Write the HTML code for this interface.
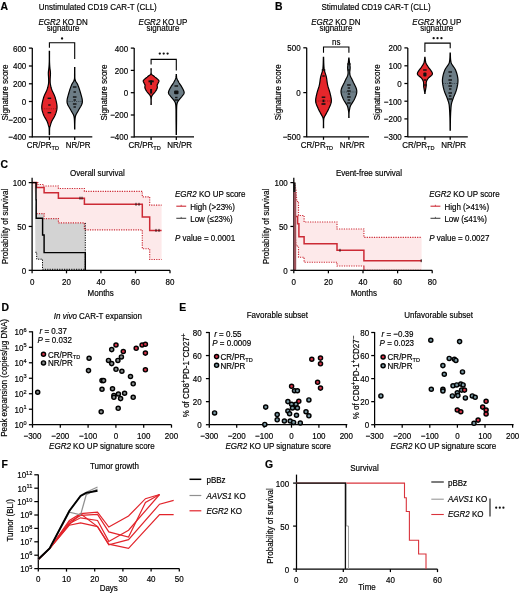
<!DOCTYPE html>
<html><head><meta charset="utf-8"><style>
html,body{margin:0;padding:0;background:#fff;width:520px;height:593px;overflow:hidden}
svg{display:block;filter:blur(0.3px)}
text{font-family:"Liberation Sans", sans-serif}
</style></head><body>
<svg width="520" height="593" viewBox="0 0 520 593" font-family='"Liberation Sans", sans-serif'>
<rect width="520" height="593" fill="#fff"/>
<text x="0" y="0" font-size="10.400" text-anchor="start" fill="#000" stroke="#000" stroke-width="0.18" font-weight="bold" transform="translate(0.50 10.10) scale(1.0000 1)" >A</text>
<text x="0" y="0" font-size="10.400" text-anchor="start" fill="#000" stroke="#000" stroke-width="0.18" font-weight="bold" transform="translate(275.00 10.10) scale(1.0000 1)" >B</text>
<text x="0" y="0" font-size="10.400" text-anchor="start" fill="#000" stroke="#000" stroke-width="0.18" font-weight="bold" transform="translate(0.50 168.20) scale(1.0000 1)" >C</text>
<text x="0" y="0" font-size="10.400" text-anchor="start" fill="#000" stroke="#000" stroke-width="0.18" font-weight="bold" transform="translate(1.50 311.00) scale(1.0000 1)" >D</text>
<text x="0" y="0" font-size="10.400" text-anchor="start" fill="#000" stroke="#000" stroke-width="0.18" font-weight="bold" transform="translate(179.30 311.10) scale(1.0000 1)" >E</text>
<text x="0" y="0" font-size="10.400" text-anchor="start" fill="#000" stroke="#000" stroke-width="0.18" font-weight="bold" transform="translate(1.50 468.00) scale(1.0000 1)" >F</text>
<text x="0" y="0" font-size="10.400" text-anchor="start" fill="#000" stroke="#000" stroke-width="0.18" font-weight="bold" transform="translate(265.00 468.00) scale(1.0000 1)" >G</text>
<text x="0" y="0" font-size="8.960" text-anchor="start" fill="#000" stroke="#000" stroke-width="0.18" transform="translate(38.75 9.75) scale(0.8929 1)" >Unstimulated CD19 CAR-T (CLL)</text>
<text x="0" y="0" font-size="8.960" text-anchor="start" fill="#000" stroke="#000" stroke-width="0.18" transform="translate(321.50 9.75) scale(0.8929 1)" >Stimulated CD19 CAR-T (CLL)</text>
<line x1="32.30" y1="48.10" x2="32.30" y2="137.40" stroke="#000" stroke-width="1.25" />
<line x1="28.90" y1="48.10" x2="32.30" y2="48.10" stroke="#000" stroke-width="1.25" />
<text x="0" y="0" font-size="8.960" text-anchor="end" fill="#000" stroke="#000" stroke-width="0.18" transform="translate(26.30 51.50) scale(0.8929 1)" >600</text>
<line x1="28.90" y1="66.00" x2="32.30" y2="66.00" stroke="#000" stroke-width="1.25" />
<text x="0" y="0" font-size="8.960" text-anchor="end" fill="#000" stroke="#000" stroke-width="0.18" transform="translate(26.30 69.40) scale(0.8929 1)" >400</text>
<line x1="28.90" y1="83.80" x2="32.30" y2="83.80" stroke="#000" stroke-width="1.25" />
<text x="0" y="0" font-size="8.960" text-anchor="end" fill="#000" stroke="#000" stroke-width="0.18" transform="translate(26.30 87.20) scale(0.8929 1)" >200</text>
<line x1="28.90" y1="101.50" x2="32.30" y2="101.50" stroke="#000" stroke-width="1.25" />
<text x="0" y="0" font-size="8.960" text-anchor="end" fill="#000" stroke="#000" stroke-width="0.18" transform="translate(26.30 104.90) scale(0.8929 1)" >0</text>
<line x1="28.90" y1="119.20" x2="32.30" y2="119.20" stroke="#000" stroke-width="1.25" />
<text x="0" y="0" font-size="8.960" text-anchor="end" fill="#000" stroke="#000" stroke-width="0.18" transform="translate(26.30 122.60) scale(0.8929 1)" >−200</text>
<line x1="28.90" y1="136.90" x2="32.30" y2="136.90" stroke="#000" stroke-width="1.25" />
<text x="0" y="0" font-size="8.960" text-anchor="end" fill="#000" stroke="#000" stroke-width="0.18" transform="translate(26.30 140.30) scale(0.8929 1)" >−400</text>
<line x1="32.30" y1="136.90" x2="92.30" y2="136.90" stroke="#000" stroke-width="1.25" />
<line x1="49.40" y1="136.90" x2="49.40" y2="139.90" stroke="#000" stroke-width="1.25" />
<line x1="74.70" y1="136.90" x2="74.70" y2="139.90" stroke="#000" stroke-width="1.25" />
<text x="0" y="0" font-size="8.960" text-anchor="start" fill="#000" stroke="#000" stroke-width="0.18" transform="translate(26.70 148.20) scale(0.8929 1)" >CR/PR<tspan font-size="6.27" dy="1.8">TD</tspan></text>
<text x="0" y="0" font-size="8.960" text-anchor="middle" fill="#000" stroke="#000" stroke-width="0.18" transform="translate(78.10 148.20) scale(0.8929 1)" >NR/PR</text>
<text x="0" y="0" font-size="8.960" text-anchor="middle" fill="#000" stroke="#000" stroke-width="0.18" transform="translate(7.60 92.50) rotate(-90) scale(0.8929 1)" >Signature score</text>
<text x="0" y="0" font-size="8.960" text-anchor="middle" fill="#000" stroke="#000" stroke-width="0.18" transform="translate(63.10 24.70) scale(0.8929 1)" ><tspan font-style="italic">EGR2</tspan> KO DN</text>
<text x="0" y="0" font-size="8.960" text-anchor="middle" fill="#000" stroke="#000" stroke-width="0.18" transform="translate(63.10 31.30) scale(0.8929 1)" >signature</text>
<polyline points="49.40,47.70 49.40,42.70 74.70,42.70 74.70,59.00" fill="none" stroke="#000" stroke-width="1.1" stroke-linejoin="miter" />
<circle cx="62.05" cy="38.50" r="1.15" fill="#111"/>
<polygon points="49.52,51.40 49.52,52.48 49.51,54.01 49.50,55.80 49.50,57.68 49.50,59.47 49.52,61.00 49.55,62.26 49.60,63.40 49.65,64.45 49.71,65.44 49.78,66.42 49.85,67.40 49.94,68.37 50.06,69.29 50.19,70.19 50.31,71.10 50.40,72.02 50.45,73.00 50.45,74.05 50.40,75.17 50.32,76.32 50.25,77.45 50.18,78.52 50.15,79.50 50.14,80.35 50.14,81.11 50.14,81.81 50.18,82.49 50.24,83.21 50.35,84.00 50.49,84.85 50.66,85.71 50.85,86.60 51.09,87.54 51.39,88.53 51.75,89.60 52.21,90.74 52.77,91.94 53.39,93.20 54.01,94.51 54.60,95.88 55.10,97.30 55.55,98.81 55.99,100.43 56.39,102.10 56.72,103.77 56.95,105.39 57.05,106.90 57.00,108.30 56.82,109.64 56.55,110.93 56.19,112.18 55.79,113.40 55.35,114.60 54.83,115.80 54.21,117.00 53.53,118.17 52.86,119.29 52.24,120.34 51.75,121.30 51.38,122.16 51.09,122.94 50.87,123.64 50.68,124.30 50.52,124.91 50.35,125.50 50.19,126.01 50.04,126.40 49.92,126.76 49.82,127.15 49.73,127.64 49.65,128.30 49.59,129.23 49.56,130.40 49.54,131.68 49.53,132.91 49.53,133.96 49.52,134.70 49.28,134.70 49.27,133.96 49.27,132.91 49.26,131.68 49.24,130.40 49.21,129.23 49.15,128.30 49.07,127.64 48.98,127.15 48.88,126.76 48.76,126.40 48.61,126.01 48.45,125.50 48.28,124.91 48.12,124.30 47.93,123.64 47.71,122.94 47.42,122.16 47.05,121.30 46.56,120.34 45.94,119.29 45.27,118.17 44.59,117.00 43.97,115.80 43.45,114.60 43.01,113.40 42.61,112.18 42.25,110.93 41.98,109.64 41.80,108.30 41.75,106.90 41.85,105.39 42.08,103.77 42.41,102.10 42.81,100.43 43.25,98.81 43.70,97.30 44.20,95.88 44.79,94.51 45.41,93.20 46.03,91.94 46.59,90.74 47.05,89.60 47.41,88.53 47.71,87.54 47.95,86.60 48.14,85.71 48.31,84.85 48.45,84.00 48.56,83.21 48.62,82.49 48.66,81.81 48.66,81.11 48.66,80.35 48.65,79.50 48.62,78.52 48.55,77.45 48.48,76.32 48.40,75.17 48.35,74.05 48.35,73.00 48.40,72.02 48.49,71.10 48.61,70.19 48.74,69.29 48.86,68.37 48.95,67.40 49.02,66.42 49.09,65.44 49.15,64.45 49.20,63.40 49.25,62.26 49.28,61.00 49.30,59.47 49.30,57.68 49.30,55.80 49.29,54.01 49.28,52.48 49.28,51.40" fill="#e5262b" stroke="#000" stroke-width="1.2" />
<polygon points="74.82,67.50 74.82,68.21 74.81,69.20 74.80,70.38 74.80,71.63 74.80,72.87 74.82,74.00 74.83,75.04 74.82,76.08 74.82,77.11 74.86,78.11 74.96,79.08 75.15,80.00 75.45,80.84 75.85,81.58 76.31,82.29 76.80,83.03 77.29,83.85 77.75,84.80 78.20,85.89 78.66,87.08 79.12,88.35 79.57,89.69 80.00,91.07 80.40,92.50 80.83,94.01 81.31,95.63 81.77,97.30 82.14,98.97 82.35,100.59 82.35,102.10 82.06,103.53 81.53,104.91 80.84,106.25 80.09,107.52 79.36,108.71 78.75,109.80 78.23,110.78 77.72,111.67 77.23,112.47 76.78,113.21 76.39,113.91 76.05,114.60 75.79,115.22 75.59,115.74 75.45,116.22 75.34,116.73 75.24,117.30 75.15,118.00 75.06,118.86 75.00,119.84 74.95,120.90 74.91,121.98 74.88,123.03 74.85,124.00 74.83,124.95 74.82,125.93 74.82,126.88 74.82,127.74 74.82,128.47 74.82,129.00 74.58,129.00 74.58,128.47 74.58,127.74 74.58,126.88 74.58,125.93 74.57,124.95 74.55,124.00 74.52,123.03 74.49,121.98 74.45,120.90 74.40,119.84 74.34,118.86 74.25,118.00 74.16,117.30 74.06,116.73 73.95,116.22 73.81,115.74 73.61,115.22 73.35,114.60 73.01,113.91 72.62,113.21 72.17,112.47 71.68,111.67 71.17,110.78 70.65,109.80 70.04,108.71 69.31,107.52 68.56,106.25 67.87,104.91 67.34,103.53 67.05,102.10 67.05,100.59 67.26,98.97 67.63,97.30 68.09,95.63 68.57,94.01 69.00,92.50 69.40,91.07 69.83,89.69 70.28,88.35 70.74,87.08 71.20,85.89 71.65,84.80 72.11,83.85 72.60,83.03 73.09,82.29 73.55,81.58 73.95,80.84 74.25,80.00 74.44,79.08 74.54,78.11 74.58,77.11 74.58,76.08 74.57,75.04 74.58,74.00 74.60,72.87 74.60,71.63 74.60,70.38 74.59,69.20 74.58,68.21 74.58,67.50" fill="#6d7d86" stroke="#000" stroke-width="1.2" />
<line x1="41.90" y1="108.80" x2="56.90" y2="108.80" stroke="#6a1010" stroke-width="0.6" stroke-dasharray="1.2,1"/>
<rect x="47.60" y="97.60" width="3.6" height="1.4" fill="#111"/>
<rect x="48.20" y="104.30" width="2.4" height="1.4" fill="#111"/>
<rect x="47.60" y="112.00" width="3.6" height="1.4" fill="#111"/>
<line x1="67.20" y1="101.50" x2="82.20" y2="101.50" stroke="#202a30" stroke-width="0.6" stroke-dasharray="1.2,1"/>
<rect x="72.90" y="86.30" width="3.6" height="1.4" fill="#111"/>
<rect x="73.50" y="91.30" width="2.4" height="1.4" fill="#111"/>
<rect x="72.90" y="96.30" width="3.6" height="1.4" fill="#111"/>
<rect x="73.50" y="99.30" width="2.4" height="1.4" fill="#111"/>
<rect x="72.90" y="103.30" width="3.6" height="1.4" fill="#111"/>
<rect x="73.50" y="106.30" width="2.4" height="1.4" fill="#111"/>
<line x1="134.20" y1="48.10" x2="134.20" y2="137.40" stroke="#000" stroke-width="1.25" />
<line x1="130.80" y1="48.10" x2="134.20" y2="48.10" stroke="#000" stroke-width="1.25" />
<text x="0" y="0" font-size="8.960" text-anchor="end" fill="#000" stroke="#000" stroke-width="0.18" transform="translate(128.20 51.50) scale(0.8929 1)" >400</text>
<line x1="130.80" y1="70.40" x2="134.20" y2="70.40" stroke="#000" stroke-width="1.25" />
<text x="0" y="0" font-size="8.960" text-anchor="end" fill="#000" stroke="#000" stroke-width="0.18" transform="translate(128.20 73.80) scale(0.8929 1)" >200</text>
<line x1="130.80" y1="92.70" x2="134.20" y2="92.70" stroke="#000" stroke-width="1.25" />
<text x="0" y="0" font-size="8.960" text-anchor="end" fill="#000" stroke="#000" stroke-width="0.18" transform="translate(128.20 96.10) scale(0.8929 1)" >0</text>
<line x1="130.80" y1="115.00" x2="134.20" y2="115.00" stroke="#000" stroke-width="1.25" />
<text x="0" y="0" font-size="8.960" text-anchor="end" fill="#000" stroke="#000" stroke-width="0.18" transform="translate(128.20 118.40) scale(0.8929 1)" >−200</text>
<line x1="130.80" y1="137.00" x2="134.20" y2="137.00" stroke="#000" stroke-width="1.25" />
<text x="0" y="0" font-size="8.960" text-anchor="end" fill="#000" stroke="#000" stroke-width="0.18" transform="translate(128.20 140.40) scale(0.8929 1)" >−400</text>
<line x1="134.20" y1="136.90" x2="194.00" y2="136.90" stroke="#000" stroke-width="1.25" />
<line x1="151.10" y1="136.90" x2="151.10" y2="139.90" stroke="#000" stroke-width="1.25" />
<line x1="176.30" y1="136.90" x2="176.30" y2="139.90" stroke="#000" stroke-width="1.25" />
<text x="0" y="0" font-size="8.960" text-anchor="start" fill="#000" stroke="#000" stroke-width="0.18" transform="translate(128.40 148.20) scale(0.8929 1)" >CR/PR<tspan font-size="6.27" dy="1.8">TD</tspan></text>
<text x="0" y="0" font-size="8.960" text-anchor="middle" fill="#000" stroke="#000" stroke-width="0.18" transform="translate(179.70 148.20) scale(0.8929 1)" >NR/PR</text>
<text x="0" y="0" font-size="8.960" text-anchor="middle" fill="#000" stroke="#000" stroke-width="0.18" transform="translate(106.80 92.50) rotate(-90) scale(0.8929 1)" >Signature score</text>
<text x="0" y="0" font-size="8.960" text-anchor="middle" fill="#000" stroke="#000" stroke-width="0.18" transform="translate(163.00 24.70) scale(0.8929 1)" ><tspan font-style="italic">EGR2</tspan> KO UP</text>
<text x="0" y="0" font-size="8.960" text-anchor="middle" fill="#000" stroke="#000" stroke-width="0.18" transform="translate(163.00 31.30) scale(0.8929 1)" >signature</text>
<polyline points="151.10,64.40 151.10,59.40 176.30,59.40 176.30,70.50" fill="none" stroke="#000" stroke-width="1.1" stroke-linejoin="miter" />
<circle cx="159.80" cy="53.60" r="1.15" fill="#111"/>
<circle cx="163.70" cy="53.60" r="1.15" fill="#111"/>
<circle cx="167.60" cy="53.60" r="1.15" fill="#111"/>
<polygon points="151.22,68.80 151.20,69.36 151.15,70.15 151.10,71.08 151.10,72.04 151.16,72.95 151.35,73.70 151.67,74.28 152.09,74.75 152.58,75.16 153.14,75.56 153.74,75.99 154.35,76.50 155.06,77.10 155.90,77.77 156.78,78.46 157.60,79.16 158.29,79.81 158.75,80.40 158.94,80.91 158.94,81.38 158.79,81.81 158.56,82.21 158.33,82.60 158.15,83.00 157.99,83.38 157.81,83.74 157.61,84.09 157.42,84.44 157.26,84.80 157.15,85.20 157.13,85.62 157.19,86.04 157.28,86.49 157.35,86.96 157.35,87.46 157.25,88.00 157.03,88.59 156.74,89.22 156.38,89.88 155.96,90.57 155.52,91.28 155.05,92.00 154.51,92.71 153.86,93.40 153.18,94.12 152.53,94.89 151.96,95.73 151.55,96.70 151.31,97.90 151.19,99.33 151.17,100.84 151.19,102.29 151.22,103.53 151.22,104.40 150.98,104.40 150.98,103.53 151.01,102.29 151.03,100.84 151.01,99.33 150.89,97.90 150.65,96.70 150.24,95.73 149.67,94.89 149.02,94.12 148.34,93.40 147.69,92.71 147.15,92.00 146.68,91.28 146.24,90.57 145.82,89.88 145.46,89.22 145.17,88.59 144.95,88.00 144.85,87.46 144.85,86.96 144.92,86.49 145.01,86.04 145.07,85.62 145.05,85.20 144.94,84.80 144.78,84.44 144.59,84.09 144.39,83.74 144.21,83.38 144.05,83.00 143.87,82.60 143.64,82.21 143.41,81.81 143.26,81.38 143.26,80.91 143.45,80.40 143.91,79.81 144.60,79.16 145.42,78.46 146.30,77.77 147.14,77.10 147.85,76.50 148.46,75.99 149.06,75.56 149.62,75.16 150.11,74.75 150.53,74.28 150.85,73.70 151.04,72.95 151.10,72.04 151.10,71.08 151.05,70.15 151.00,69.36 150.98,68.80" fill="#e5262b" stroke="#000" stroke-width="1.2" />
<polygon points="176.42,74.60 176.44,74.96 176.44,75.45 176.46,76.03 176.50,76.67 176.59,77.34 176.75,78.00 176.98,78.66 177.26,79.35 177.58,80.07 177.95,80.80 178.34,81.55 178.75,82.30 179.20,83.05 179.70,83.81 180.23,84.58 180.76,85.37 181.27,86.17 181.75,87.00 182.23,87.88 182.75,88.81 183.26,89.77 183.69,90.71 184.01,91.60 184.15,92.40 184.09,93.10 183.88,93.73 183.54,94.31 183.12,94.87 182.68,95.42 182.25,96.00 181.80,96.60 181.29,97.21 180.76,97.81 180.22,98.41 179.70,99.01 179.25,99.60 178.84,100.16 178.46,100.69 178.10,101.21 177.78,101.76 177.49,102.34 177.25,103.00 177.06,103.66 176.93,104.29 176.83,104.96 176.76,105.76 176.70,106.74 176.65,108.00 176.60,109.57 176.58,111.40 176.57,113.42 176.57,115.57 176.56,117.79 176.55,120.00 176.53,122.42 176.50,125.13 176.48,127.90 176.45,130.51 176.43,132.72 176.42,134.30 176.18,134.30 176.17,132.72 176.15,130.51 176.12,127.90 176.10,125.13 176.07,122.42 176.05,120.00 176.04,117.79 176.03,115.57 176.03,113.42 176.02,111.40 176.00,109.57 175.95,108.00 175.90,106.74 175.84,105.76 175.77,104.96 175.67,104.29 175.54,103.66 175.35,103.00 175.11,102.34 174.82,101.76 174.50,101.21 174.14,100.69 173.76,100.16 173.35,99.60 172.90,99.01 172.38,98.41 171.84,97.81 171.31,97.21 170.80,96.60 170.35,96.00 169.92,95.42 169.48,94.87 169.06,94.31 168.72,93.73 168.51,93.10 168.45,92.40 168.59,91.60 168.91,90.71 169.34,89.77 169.85,88.81 170.37,87.88 170.85,87.00 171.33,86.17 171.84,85.37 172.38,84.58 172.90,83.81 173.40,83.05 173.85,82.30 174.26,81.55 174.65,80.80 175.02,80.07 175.34,79.35 175.62,78.66 175.85,78.00 176.01,77.34 176.10,76.67 176.14,76.03 176.16,75.45 176.16,74.96 176.18,74.60" fill="#6d7d86" stroke="#000" stroke-width="1.2" />
<rect x="148.50" y="80.4" width="5.2" height="1.9" fill="#111"/>
<rect x="150.20" y="80.4" width="1.8" height="4.5" fill="#111"/>
<rect x="150.10" y="89" width="2.0" height="4.6" fill="#111"/>
<rect x="174.10" y="90.6" width="4.4" height="3.6" rx="1" fill="#111"/>
<rect x="174.50" y="85.30" width="3.6" height="1.4" fill="#111"/>
<rect x="175.10" y="96.80" width="2.4" height="1.4" fill="#111"/>
<rect x="174.50" y="99.30" width="3.6" height="1.4" fill="#111"/>
<line x1="306.70" y1="47.80" x2="306.70" y2="137.30" stroke="#000" stroke-width="1.25" />
<line x1="303.30" y1="47.80" x2="306.70" y2="47.80" stroke="#000" stroke-width="1.25" />
<text x="0" y="0" font-size="8.960" text-anchor="end" fill="#000" stroke="#000" stroke-width="0.18" transform="translate(300.70 51.20) scale(0.8929 1)" >500</text>
<line x1="303.30" y1="92.60" x2="306.70" y2="92.60" stroke="#000" stroke-width="1.25" />
<text x="0" y="0" font-size="8.960" text-anchor="end" fill="#000" stroke="#000" stroke-width="0.18" transform="translate(300.70 96.00) scale(0.8929 1)" >0</text>
<line x1="303.30" y1="136.80" x2="306.70" y2="136.80" stroke="#000" stroke-width="1.25" />
<text x="0" y="0" font-size="8.960" text-anchor="end" fill="#000" stroke="#000" stroke-width="0.18" transform="translate(300.70 140.20) scale(0.8929 1)" >−500</text>
<line x1="306.70" y1="136.80" x2="369.00" y2="136.80" stroke="#000" stroke-width="1.25" />
<line x1="323.50" y1="136.80" x2="323.50" y2="139.80" stroke="#000" stroke-width="1.25" />
<line x1="348.90" y1="136.80" x2="348.90" y2="139.80" stroke="#000" stroke-width="1.25" />
<text x="0" y="0" font-size="8.960" text-anchor="start" fill="#000" stroke="#000" stroke-width="0.18" transform="translate(300.80 148.20) scale(0.8929 1)" >CR/PR<tspan font-size="6.27" dy="1.8">TD</tspan></text>
<text x="0" y="0" font-size="8.960" text-anchor="middle" fill="#000" stroke="#000" stroke-width="0.18" transform="translate(352.30 148.20) scale(0.8929 1)" >NR/PR</text>
<text x="0" y="0" font-size="8.960" text-anchor="middle" fill="#000" stroke="#000" stroke-width="0.18" transform="translate(281.00 92.30) rotate(-90) scale(0.8929 1)" >Signature score</text>
<text x="0" y="0" font-size="8.960" text-anchor="middle" fill="#000" stroke="#000" stroke-width="0.18" transform="translate(335.90 24.70) scale(0.8929 1)" ><tspan font-style="italic">EGR2</tspan> KO DN</text>
<text x="0" y="0" font-size="8.960" text-anchor="middle" fill="#000" stroke="#000" stroke-width="0.18" transform="translate(335.90 31.30) scale(0.8929 1)" >signature</text>
<polyline points="323.50,52.70 323.50,47.00 348.90,47.00 348.90,52.70" fill="none" stroke="#000" stroke-width="1.1" stroke-linejoin="miter" />
<text x="0" y="0" font-size="8.960" text-anchor="middle" fill="#000" stroke="#000" stroke-width="0.18" transform="translate(336.20 45.20) scale(0.8929 1)" >ns</text>
<polygon points="323.62,57.40 323.66,58.69 323.70,60.51 323.75,62.64 323.83,64.89 323.96,67.05 324.15,68.90 324.43,70.45 324.79,71.85 325.20,73.16 325.62,74.43 326.02,75.69 326.35,77.00 326.61,78.35 326.81,79.70 326.99,81.05 327.17,82.40 327.38,83.75 327.65,85.10 328.00,86.45 328.41,87.80 328.85,89.15 329.29,90.50 329.70,91.85 330.05,93.20 330.37,94.57 330.70,95.95 330.99,97.34 331.22,98.70 331.35,100.03 331.35,101.30 331.18,102.51 330.86,103.69 330.45,104.82 329.98,105.91 329.50,106.97 329.05,108.00 328.62,108.99 328.16,109.94 327.69,110.86 327.23,111.74 326.78,112.59 326.35,113.40 325.94,114.17 325.52,114.89 325.11,115.57 324.74,116.23 324.41,116.87 324.15,117.50 323.96,118.08 323.83,118.60 323.75,119.09 323.70,119.63 323.66,120.24 323.62,121.00 323.59,122.00 323.58,123.21 323.59,124.52 323.60,125.77 323.61,126.85 323.62,127.60 323.38,127.60 323.39,126.85 323.40,125.77 323.41,124.52 323.42,123.21 323.41,122.00 323.38,121.00 323.34,120.24 323.30,119.63 323.25,119.09 323.17,118.60 323.04,118.08 322.85,117.50 322.59,116.87 322.26,116.23 321.89,115.57 321.48,114.89 321.06,114.17 320.65,113.40 320.22,112.59 319.77,111.74 319.31,110.86 318.84,109.94 318.38,108.99 317.95,108.00 317.50,106.97 317.02,105.91 316.55,104.82 316.14,103.69 315.82,102.51 315.65,101.30 315.65,100.03 315.78,98.70 316.01,97.34 316.30,95.95 316.63,94.57 316.95,93.20 317.30,91.85 317.71,90.50 318.15,89.15 318.59,87.80 319.00,86.45 319.35,85.10 319.62,83.75 319.83,82.40 320.01,81.05 320.19,79.70 320.39,78.35 320.65,77.00 320.98,75.69 321.38,74.43 321.80,73.16 322.21,71.85 322.57,70.45 322.85,68.90 323.04,67.05 323.17,64.89 323.25,62.64 323.30,60.51 323.34,58.69 323.38,57.40" fill="#e5262b" stroke="#000" stroke-width="1.2" />
<polygon points="349.02,58.10 349.08,58.64 349.15,59.39 349.25,60.27 349.35,61.21 349.45,62.15 349.55,63.00 349.66,63.75 349.78,64.44 349.90,65.13 350.01,65.84 350.10,66.62 350.15,67.50 350.12,68.50 350.00,69.60 349.86,70.76 349.75,71.96 349.73,73.15 349.85,74.30 350.14,75.39 350.54,76.44 351.03,77.48 351.58,78.56 352.17,79.72 352.75,81.00 353.42,82.44 354.22,84.01 355.06,85.66 355.82,87.33 356.42,88.97 356.75,90.50 356.79,91.95 356.60,93.36 356.25,94.73 355.79,96.06 355.27,97.35 354.75,98.60 354.17,99.83 353.46,101.03 352.70,102.20 351.95,103.31 351.28,104.35 350.75,105.30 350.38,106.14 350.12,106.88 349.93,107.54 349.79,108.17 349.68,108.78 349.55,109.40 349.42,110.02 349.31,110.60 349.23,111.18 349.16,111.75 349.10,112.35 349.05,113.00 349.02,113.75 349.00,114.60 349.00,115.47 349.01,116.30 349.02,117.00 349.02,117.50 348.78,117.50 348.78,117.00 348.79,116.30 348.80,115.47 348.80,114.60 348.78,113.75 348.75,113.00 348.70,112.35 348.64,111.75 348.57,111.18 348.49,110.60 348.38,110.02 348.25,109.40 348.12,108.78 348.01,108.17 347.87,107.54 347.68,106.88 347.42,106.14 347.05,105.30 346.52,104.35 345.85,103.31 345.10,102.20 344.34,101.03 343.63,99.83 343.05,98.60 342.53,97.35 342.01,96.06 341.55,94.73 341.20,93.36 341.01,91.95 341.05,90.50 341.38,88.97 341.98,87.33 342.74,85.66 343.58,84.01 344.38,82.44 345.05,81.00 345.63,79.72 346.22,78.56 346.77,77.48 347.26,76.44 347.66,75.39 347.95,74.30 348.07,73.15 348.05,71.96 347.94,70.76 347.80,69.60 347.68,68.50 347.65,67.50 347.70,66.62 347.79,65.84 347.90,65.13 348.02,64.44 348.14,63.75 348.25,63.00 348.35,62.15 348.45,61.21 348.55,60.27 348.65,59.39 348.72,58.64 348.78,58.10" fill="#6d7d86" stroke="#000" stroke-width="1.2" />
<line x1="316.00" y1="101.00" x2="331.00" y2="101.00" stroke="#6a1010" stroke-width="0.6" stroke-dasharray="1.2,1"/>
<rect x="321.70" y="69.30" width="3.6" height="1.4" fill="#111"/>
<rect x="322.30" y="75.30" width="2.4" height="1.4" fill="#111"/>
<rect x="321.70" y="96.50" width="3.6" height="1.4" fill="#111"/>
<rect x="322.50" y="99.6" width="2.0" height="2.6" fill="#111"/>
<rect x="321.50" y="103.2" width="4.0" height="1.6" fill="#111"/>
<line x1="341.40" y1="92.00" x2="356.40" y2="92.00" stroke="#202a30" stroke-width="0.6" stroke-dasharray="1.2,1"/>
<rect x="347.10" y="63.30" width="3.6" height="1.4" fill="#111"/>
<rect x="347.70" y="69.30" width="2.4" height="1.4" fill="#111"/>
<rect x="347.10" y="84.30" width="3.6" height="1.4" fill="#111"/>
<rect x="347.70" y="87.30" width="2.4" height="1.4" fill="#111"/>
<rect x="347.10" y="90.30" width="3.6" height="1.4" fill="#111"/>
<rect x="347.70" y="93.30" width="2.4" height="1.4" fill="#111"/>
<rect x="347.10" y="96.30" width="3.6" height="1.4" fill="#111"/>
<rect x="347.70" y="99.30" width="2.4" height="1.4" fill="#111"/>
<rect x="347.10" y="102.30" width="3.6" height="1.4" fill="#111"/>
<line x1="407.80" y1="47.90" x2="407.80" y2="137.30" stroke="#000" stroke-width="1.25" />
<line x1="404.40" y1="47.90" x2="407.80" y2="47.90" stroke="#000" stroke-width="1.25" />
<text x="0" y="0" font-size="8.960" text-anchor="end" fill="#000" stroke="#000" stroke-width="0.18" transform="translate(401.80 51.30) scale(0.8929 1)" >200</text>
<line x1="404.40" y1="65.80" x2="407.80" y2="65.80" stroke="#000" stroke-width="1.25" />
<text x="0" y="0" font-size="8.960" text-anchor="end" fill="#000" stroke="#000" stroke-width="0.18" transform="translate(401.80 69.20) scale(0.8929 1)" >100</text>
<line x1="404.40" y1="83.50" x2="407.80" y2="83.50" stroke="#000" stroke-width="1.25" />
<text x="0" y="0" font-size="8.960" text-anchor="end" fill="#000" stroke="#000" stroke-width="0.18" transform="translate(401.80 86.90) scale(0.8929 1)" >0</text>
<line x1="404.40" y1="101.20" x2="407.80" y2="101.20" stroke="#000" stroke-width="1.25" />
<text x="0" y="0" font-size="8.960" text-anchor="end" fill="#000" stroke="#000" stroke-width="0.18" transform="translate(401.80 104.60) scale(0.8929 1)" >−100</text>
<line x1="404.40" y1="118.90" x2="407.80" y2="118.90" stroke="#000" stroke-width="1.25" />
<text x="0" y="0" font-size="8.960" text-anchor="end" fill="#000" stroke="#000" stroke-width="0.18" transform="translate(401.80 122.30) scale(0.8929 1)" >−200</text>
<line x1="404.40" y1="136.60" x2="407.80" y2="136.60" stroke="#000" stroke-width="1.25" />
<text x="0" y="0" font-size="8.960" text-anchor="end" fill="#000" stroke="#000" stroke-width="0.18" transform="translate(401.80 140.00) scale(0.8929 1)" >−300</text>
<line x1="407.80" y1="136.80" x2="467.80" y2="136.80" stroke="#000" stroke-width="1.25" />
<line x1="424.90" y1="136.80" x2="424.90" y2="139.80" stroke="#000" stroke-width="1.25" />
<line x1="450.20" y1="136.80" x2="450.20" y2="139.80" stroke="#000" stroke-width="1.25" />
<text x="0" y="0" font-size="8.960" text-anchor="start" fill="#000" stroke="#000" stroke-width="0.18" transform="translate(402.20 148.20) scale(0.8929 1)" >CR/PR<tspan font-size="6.27" dy="1.8">TD</tspan></text>
<text x="0" y="0" font-size="8.960" text-anchor="middle" fill="#000" stroke="#000" stroke-width="0.18" transform="translate(453.60 148.20) scale(0.8929 1)" >NR/PR</text>
<text x="0" y="0" font-size="8.960" text-anchor="middle" fill="#000" stroke="#000" stroke-width="0.18" transform="translate(380.10 92.35) rotate(-90) scale(0.8929 1)" >Signature score</text>
<text x="0" y="0" font-size="8.960" text-anchor="middle" fill="#000" stroke="#000" stroke-width="0.18" transform="translate(436.80 24.70) scale(0.8929 1)" ><tspan font-style="italic">EGR2</tspan> KO UP</text>
<text x="0" y="0" font-size="8.960" text-anchor="middle" fill="#000" stroke="#000" stroke-width="0.18" transform="translate(436.80 31.30) scale(0.8929 1)" >signature</text>
<polyline points="424.90,52.00 424.90,43.10 450.20,43.10 450.20,48.20" fill="none" stroke="#000" stroke-width="1.1" stroke-linejoin="miter" />
<circle cx="433.65" cy="38.20" r="1.15" fill="#111"/>
<circle cx="437.55" cy="38.20" r="1.15" fill="#111"/>
<circle cx="441.45" cy="38.20" r="1.15" fill="#111"/>
<polygon points="425.02,57.30 425.09,57.90 425.17,58.74 425.28,59.72 425.42,60.77 425.61,61.80 425.85,62.70 426.15,63.47 426.50,64.16 426.90,64.83 427.34,65.51 427.82,66.25 428.35,67.10 429.04,68.10 429.90,69.22 430.81,70.40 431.63,71.58 432.22,72.70 432.45,73.70 432.22,74.57 431.61,75.36 430.78,76.08 429.86,76.77 429.01,77.43 428.35,78.10 427.87,78.75 427.46,79.36 427.11,79.95 426.81,80.54 426.55,81.15 426.35,81.80 426.22,82.48 426.18,83.16 426.19,83.87 426.21,84.60 426.21,85.38 426.15,86.20 426.02,87.14 425.84,88.19 425.65,89.28 425.45,90.33 425.28,91.27 425.15,92.00 425.08,92.52 425.04,92.87 425.02,93.11 425.02,93.27 425.02,93.39 425.02,93.50 424.78,93.50 424.78,93.39 424.78,93.27 424.78,93.11 424.76,92.87 424.72,92.52 424.65,92.00 424.52,91.27 424.35,90.33 424.15,89.28 423.96,88.19 423.78,87.14 423.65,86.20 423.59,85.38 423.59,84.60 423.61,83.87 423.62,83.16 423.58,82.48 423.45,81.80 423.25,81.15 422.99,80.54 422.69,79.95 422.34,79.36 421.93,78.75 421.45,78.10 420.79,77.43 419.94,76.77 419.02,76.08 418.19,75.36 417.58,74.57 417.35,73.70 417.58,72.70 418.17,71.58 418.99,70.40 419.90,69.22 420.76,68.10 421.45,67.10 421.98,66.25 422.46,65.51 422.90,64.83 423.30,64.16 423.65,63.47 423.95,62.70 424.19,61.80 424.38,60.77 424.52,59.72 424.63,58.74 424.71,57.90 424.78,57.30" fill="#e5262b" stroke="#000" stroke-width="1.2" />
<polygon points="450.32,53.10 450.37,54.17 450.40,55.67 450.46,57.44 450.58,59.31 450.80,61.12 451.15,62.70 451.70,64.02 452.43,65.22 453.25,66.35 454.10,67.48 454.89,68.68 455.55,70.00 456.11,71.47 456.64,73.03 457.11,74.66 457.50,76.32 457.79,77.98 457.95,79.60 457.97,81.20 457.86,82.80 457.66,84.40 457.37,85.99 457.03,87.56 456.65,89.10 456.20,90.64 455.65,92.19 455.04,93.72 454.42,95.21 453.84,96.61 453.35,97.90 452.94,99.05 452.56,100.08 452.23,101.03 451.94,101.94 451.68,102.85 451.45,103.80 451.27,104.75 451.15,105.66 451.06,106.57 450.99,107.52 450.92,108.55 450.85,109.70 450.77,110.97 450.69,112.31 450.62,113.74 450.56,115.24 450.50,116.83 450.45,118.50 450.41,120.42 450.38,122.62 450.36,124.90 450.34,127.06 450.33,128.89 450.32,130.20 450.08,130.20 450.07,128.89 450.06,127.06 450.04,124.90 450.02,122.62 449.99,120.42 449.95,118.50 449.90,116.83 449.84,115.24 449.78,113.74 449.71,112.31 449.63,110.97 449.55,109.70 449.48,108.55 449.41,107.52 449.34,106.57 449.25,105.66 449.13,104.75 448.95,103.80 448.72,102.85 448.46,101.94 448.17,101.03 447.84,100.08 447.46,99.05 447.05,97.90 446.56,96.61 445.98,95.21 445.36,93.72 444.75,92.19 444.20,90.64 443.75,89.10 443.37,87.56 443.03,85.99 442.74,84.40 442.54,82.80 442.43,81.20 442.45,79.60 442.61,77.98 442.90,76.32 443.29,74.66 443.76,73.03 444.29,71.47 444.85,70.00 445.51,68.68 446.30,67.48 447.15,66.35 447.97,65.22 448.70,64.02 449.25,62.70 449.60,61.12 449.82,59.31 449.94,57.44 450.00,55.67 450.03,54.17 450.08,53.10" fill="#6d7d86" stroke="#000" stroke-width="1.2" />
<rect x="423.30" y="72.5" width="3.2" height="4" rx="1" fill="#111"/>
<rect x="423.10" y="69.30" width="3.6" height="1.4" fill="#111"/>
<rect x="423.70" y="79.30" width="2.4" height="1.4" fill="#111"/>
<rect x="423.10" y="84.30" width="3.6" height="1.4" fill="#111"/>
<line x1="442.70" y1="83.50" x2="457.70" y2="83.50" stroke="#202a30" stroke-width="0.6" stroke-dasharray="1.2,1"/>
<rect x="448.40" y="71.30" width="3.6" height="1.4" fill="#111"/>
<rect x="449.00" y="75.30" width="2.4" height="1.4" fill="#111"/>
<rect x="448.40" y="79.30" width="3.6" height="1.4" fill="#111"/>
<rect x="449.00" y="82.30" width="2.4" height="1.4" fill="#111"/>
<rect x="448.40" y="85.30" width="3.6" height="1.4" fill="#111"/>
<rect x="449.00" y="88.30" width="2.4" height="1.4" fill="#111"/>
<rect x="448.40" y="92.30" width="3.6" height="1.4" fill="#111"/>
<rect x="449.00" y="95.30" width="2.4" height="1.4" fill="#111"/>
<rect x="448.40" y="98.30" width="3.6" height="1.4" fill="#111"/>
<polygon points="32.10,182.60 38.00,182.60 38.00,184.50 43.60,184.50 43.60,186.00 58.40,186.00 58.40,188.50 84.40,188.50 84.40,191.30 142.30,191.30 142.30,196.80 149.70,196.80 149.70,205.10 161.60,205.10 161.60,259.50 149.70,259.50 149.70,248.70 142.30,248.70 142.30,229.80 84.40,229.80 84.40,222.90 58.40,222.90 58.40,218.60 44.10,218.60 44.10,213.60 36.50,213.60 36.50,200.00 32.10,182.60" fill="#fde9ea" stroke="none" stroke-width="0" />
<polygon points="35.00,200.00 36.50,213.60 44.10,213.60 44.10,218.60 58.40,218.60 58.40,222.90 85.30,222.90 85.30,270.30 85.30,269.60 42.50,269.60 42.50,259.20 36.70,259.20 36.70,252.30 35.40,252.30" fill="#d3d3d3" stroke="none" stroke-width="0" />
<polyline points="32.10,182.60 38.00,182.60 38.00,184.50 43.60,184.50 43.60,186.00 58.40,186.00 58.40,188.50 84.40,188.50 84.40,191.30 142.30,191.30 142.30,196.80 149.70,196.80 149.70,205.10 161.60,205.10" fill="none" stroke="#cc2a35" stroke-width="1.15" stroke-linejoin="miter" stroke-dasharray="1.2,1.2"/>
<polyline points="36.50,213.60 44.10,213.60 44.10,218.60 58.40,218.60 58.40,222.90 84.40,222.90 84.40,229.80 142.30,229.80 142.30,248.70 149.70,248.70 149.70,259.50 161.60,259.50" fill="none" stroke="#cc2a35" stroke-width="1.15" stroke-linejoin="miter" stroke-dasharray="1.2,1.2"/>
<polyline points="85.30,222.90 85.30,270.30" fill="none" stroke="#000" stroke-width="1.0" stroke-linejoin="miter" stroke-dasharray="1.2,1.2"/>
<polyline points="35.40,252.30 36.70,252.30 36.70,259.20 42.50,259.20 42.50,269.30 85.30,269.30" fill="none" stroke="#000" stroke-width="1.0" stroke-linejoin="miter" stroke-dasharray="1.2,1.2"/>
<polyline points="32.10,182.60 36.50,182.60 36.50,187.60 44.10,187.60 44.10,192.80 58.40,192.80 58.40,198.20 84.40,198.20 84.40,204.30 142.30,204.30 142.30,217.00 149.70,217.00 149.70,230.40 161.60,230.40" fill="none" stroke="#cc2a35" stroke-width="1.5" stroke-linejoin="miter" />
<polyline points="32.10,182.60 36.00,182.60 36.00,199.70 36.20,199.70 36.20,218.20 42.60,218.20 42.60,235.00 44.10,235.00 44.10,252.60 85.30,252.60 85.30,270.30" fill="none" stroke="#000" stroke-width="1.45" stroke-linejoin="miter" />
<line x1="80.00" y1="196.70" x2="80.00" y2="199.70" stroke="#000" stroke-width="0.8" />
<line x1="82.00" y1="196.70" x2="82.00" y2="199.70" stroke="#000" stroke-width="0.8" />
<line x1="136.00" y1="202.80" x2="136.00" y2="205.80" stroke="#000" stroke-width="0.8" />
<line x1="139.00" y1="202.80" x2="139.00" y2="205.80" stroke="#000" stroke-width="0.8" />
<line x1="156.00" y1="228.90" x2="156.00" y2="231.90" stroke="#000" stroke-width="0.8" />
<line x1="159.00" y1="228.90" x2="159.00" y2="231.90" stroke="#000" stroke-width="0.8" />
<line x1="32.10" y1="177.70" x2="32.10" y2="270.30" stroke="#000" stroke-width="1.25" />
<line x1="28.70" y1="182.60" x2="32.10" y2="182.60" stroke="#000" stroke-width="1.25" />
<text x="0" y="0" font-size="8.960" text-anchor="end" fill="#000" stroke="#000" stroke-width="0.18" transform="translate(26.10 186.00) scale(0.8929 1)" >100</text>
<line x1="28.70" y1="226.45" x2="32.10" y2="226.45" stroke="#000" stroke-width="1.25" />
<text x="0" y="0" font-size="8.960" text-anchor="end" fill="#000" stroke="#000" stroke-width="0.18" transform="translate(26.10 229.85) scale(0.8929 1)" >50</text>
<line x1="28.70" y1="270.30" x2="32.10" y2="270.30" stroke="#000" stroke-width="1.25" />
<text x="0" y="0" font-size="8.960" text-anchor="end" fill="#000" stroke="#000" stroke-width="0.18" transform="translate(26.10 273.70) scale(0.8929 1)" >0</text>
<line x1="32.10" y1="270.30" x2="170.00" y2="270.30" stroke="#000" stroke-width="1.25" />
<line x1="32.10" y1="270.30" x2="32.10" y2="273.30" stroke="#000" stroke-width="1.25" />
<text x="0" y="0" font-size="8.960" text-anchor="middle" fill="#000" stroke="#000" stroke-width="0.18" transform="translate(32.10 284.50) scale(0.8929 1)" >0</text>
<line x1="66.50" y1="270.30" x2="66.50" y2="273.30" stroke="#000" stroke-width="1.25" />
<text x="0" y="0" font-size="8.960" text-anchor="middle" fill="#000" stroke="#000" stroke-width="0.18" transform="translate(66.50 284.50) scale(0.8929 1)" >20</text>
<line x1="100.90" y1="270.30" x2="100.90" y2="273.30" stroke="#000" stroke-width="1.25" />
<text x="0" y="0" font-size="8.960" text-anchor="middle" fill="#000" stroke="#000" stroke-width="0.18" transform="translate(100.90 284.50) scale(0.8929 1)" >40</text>
<line x1="135.50" y1="270.30" x2="135.50" y2="273.30" stroke="#000" stroke-width="1.25" />
<text x="0" y="0" font-size="8.960" text-anchor="middle" fill="#000" stroke="#000" stroke-width="0.18" transform="translate(135.50 284.50) scale(0.8929 1)" >60</text>
<line x1="170.00" y1="270.30" x2="170.00" y2="273.30" stroke="#000" stroke-width="1.25" />
<text x="0" y="0" font-size="8.960" text-anchor="middle" fill="#000" stroke="#000" stroke-width="0.18" transform="translate(170.00 284.50) scale(0.8929 1)" >80</text>
<text x="0" y="0" font-size="8.960" text-anchor="middle" fill="#000" stroke="#000" stroke-width="0.18" transform="translate(8.30 226.45) rotate(-90) scale(0.8929 1)" >Probability of survival</text>
<text x="0" y="0" font-size="8.960" text-anchor="middle" fill="#000" stroke="#000" stroke-width="0.18" transform="translate(97.40 176.30) scale(0.8929 1)" >Overall survival</text>
<text x="0" y="0" font-size="8.960" text-anchor="middle" fill="#000" stroke="#000" stroke-width="0.18" transform="translate(100.70 296.00) scale(0.8929 1)" >Months</text>
<text x="0" y="0" font-size="8.960" text-anchor="start" fill="#000" stroke="#000" stroke-width="0.18" transform="translate(175.00 197.30) scale(0.8929 1)" ><tspan font-style="italic">EGR2</tspan> KO UP score</text>
<line x1="176.30" y1="206.20" x2="186.20" y2="206.20" stroke="#cc2a35" stroke-width="1.1" />
<line x1="181.20" y1="204.80" x2="181.20" y2="206.20" stroke="#cc2a35" stroke-width="0.8" />
<text x="0" y="0" font-size="8.960" text-anchor="start" fill="#000" stroke="#000" stroke-width="0.18" transform="translate(190.20 209.90) scale(0.8929 1)" >High (&gt;23%)</text>
<line x1="176.30" y1="218.30" x2="186.20" y2="218.30" stroke="#444" stroke-width="1.1" />
<line x1="181.20" y1="216.90" x2="181.20" y2="218.30" stroke="#444" stroke-width="0.8" />
<text x="0" y="0" font-size="8.960" text-anchor="start" fill="#000" stroke="#000" stroke-width="0.18" transform="translate(190.20 222.10) scale(0.8929 1)" >Low (≤23%)</text>
<text x="0" y="0" font-size="8.960" text-anchor="start" fill="#000" stroke="#000" stroke-width="0.18" transform="translate(175.00 241.10) scale(0.8929 1)" ><tspan font-style="italic">P</tspan> value = 0.0001</text>
<polygon points="294.50,182.60 296.00,190.00 296.80,201.50 298.50,201.50 298.50,215.50 304.10,215.50 304.10,222.00 337.00,222.00 337.00,229.00 363.90,229.00 363.90,237.30 421.60,237.30 421.60,270.30 363.90,270.30 363.90,266.00 337.00,266.00 337.00,262.20 304.10,262.20 304.10,257.20 298.50,257.20 298.50,246.00 296.00,246.00 295.00,230.00" fill="#fde9ea" stroke="none" stroke-width="0" />
<polyline points="294.50,182.60 296.00,190.00 296.80,201.50 298.50,201.50 298.50,215.50 304.10,215.50 304.10,222.00 337.00,222.00 337.00,229.00 363.90,229.00 363.90,237.30 421.60,237.30" fill="none" stroke="#cc2a35" stroke-width="1.15" stroke-linejoin="miter" stroke-dasharray="1.2,1.2"/>
<polyline points="295.00,230.00 296.00,246.00 298.50,246.00 298.50,257.20 304.10,257.20 304.10,262.20 337.00,262.20 337.00,266.00 363.90,266.00 363.90,270.30 363.90,266.00 363.90,270.30 421.60,270.30" fill="none" stroke="#cc2a35" stroke-width="1.15" stroke-linejoin="miter" stroke-dasharray="1.2,1.2"/>
<polyline points="294.60,182.60 294.90,270.30" fill="none" stroke="#222" stroke-width="2.0" stroke-linejoin="miter" />
<polyline points="295.20,192.00 295.20,216.40 297.60,216.40 297.60,223.80 298.90,223.80 298.90,236.80 304.10,236.80 304.10,243.70 337.00,243.70 337.00,250.30 363.90,250.30 363.90,260.70 421.60,260.70" fill="none" stroke="#cc2a35" stroke-width="1.5" stroke-linejoin="miter" />
<line x1="340.00" y1="248.80" x2="340.00" y2="251.80" stroke="#000" stroke-width="0.8" />
<line x1="421.20" y1="259.20" x2="421.20" y2="262.20" stroke="#000" stroke-width="0.8" />
<line x1="293.80" y1="177.70" x2="293.80" y2="270.30" stroke="#000" stroke-width="1.25" />
<line x1="290.40" y1="182.60" x2="293.80" y2="182.60" stroke="#000" stroke-width="1.25" />
<text x="0" y="0" font-size="8.960" text-anchor="end" fill="#000" stroke="#000" stroke-width="0.18" transform="translate(287.80 186.00) scale(0.8929 1)" >100</text>
<line x1="290.40" y1="226.45" x2="293.80" y2="226.45" stroke="#000" stroke-width="1.25" />
<text x="0" y="0" font-size="8.960" text-anchor="end" fill="#000" stroke="#000" stroke-width="0.18" transform="translate(287.80 229.85) scale(0.8929 1)" >50</text>
<line x1="290.40" y1="270.30" x2="293.80" y2="270.30" stroke="#000" stroke-width="1.25" />
<text x="0" y="0" font-size="8.960" text-anchor="end" fill="#000" stroke="#000" stroke-width="0.18" transform="translate(287.80 273.70) scale(0.8929 1)" >0</text>
<line x1="293.80" y1="270.30" x2="432.20" y2="270.30" stroke="#000" stroke-width="1.25" />
<line x1="293.80" y1="270.30" x2="293.80" y2="273.30" stroke="#000" stroke-width="1.25" />
<text x="0" y="0" font-size="8.960" text-anchor="middle" fill="#000" stroke="#000" stroke-width="0.18" transform="translate(293.80 284.50) scale(0.8929 1)" >0</text>
<line x1="328.40" y1="270.30" x2="328.40" y2="273.30" stroke="#000" stroke-width="1.25" />
<text x="0" y="0" font-size="8.960" text-anchor="middle" fill="#000" stroke="#000" stroke-width="0.18" transform="translate(328.40 284.50) scale(0.8929 1)" >20</text>
<line x1="363.00" y1="270.30" x2="363.00" y2="273.30" stroke="#000" stroke-width="1.25" />
<text x="0" y="0" font-size="8.960" text-anchor="middle" fill="#000" stroke="#000" stroke-width="0.18" transform="translate(363.00 284.50) scale(0.8929 1)" >40</text>
<line x1="397.60" y1="270.30" x2="397.60" y2="273.30" stroke="#000" stroke-width="1.25" />
<text x="0" y="0" font-size="8.960" text-anchor="middle" fill="#000" stroke="#000" stroke-width="0.18" transform="translate(397.60 284.50) scale(0.8929 1)" >60</text>
<line x1="432.20" y1="270.30" x2="432.20" y2="273.30" stroke="#000" stroke-width="1.25" />
<text x="0" y="0" font-size="8.960" text-anchor="middle" fill="#000" stroke="#000" stroke-width="0.18" transform="translate(432.20 284.50) scale(0.8929 1)" >80</text>
<text x="0" y="0" font-size="8.960" text-anchor="middle" fill="#000" stroke="#000" stroke-width="0.18" transform="translate(269.30 226.45) rotate(-90) scale(0.8929 1)" >Probability of survival</text>
<text x="0" y="0" font-size="8.960" text-anchor="start" fill="#000" stroke="#000" stroke-width="0.18" transform="translate(335.90 176.30) scale(0.8929 1)" >Event-free survival</text>
<text x="0" y="0" font-size="8.960" text-anchor="middle" fill="#000" stroke="#000" stroke-width="0.18" transform="translate(363.80 296.00) scale(0.8929 1)" >Months</text>
<text x="0" y="0" font-size="8.960" text-anchor="start" fill="#000" stroke="#000" stroke-width="0.18" transform="translate(429.20 197.30) scale(0.8929 1)" ><tspan font-style="italic">EGR2</tspan> KO UP score</text>
<line x1="430.50" y1="206.20" x2="440.40" y2="206.20" stroke="#cc2a35" stroke-width="1.1" />
<line x1="435.40" y1="204.80" x2="435.40" y2="206.20" stroke="#cc2a35" stroke-width="0.8" />
<text x="0" y="0" font-size="8.960" text-anchor="start" fill="#000" stroke="#000" stroke-width="0.18" transform="translate(444.40 209.90) scale(0.8929 1)" >High (&gt;41%)</text>
<line x1="430.50" y1="218.30" x2="440.40" y2="218.30" stroke="#444" stroke-width="1.1" />
<line x1="435.40" y1="216.90" x2="435.40" y2="218.30" stroke="#444" stroke-width="0.8" />
<text x="0" y="0" font-size="8.960" text-anchor="start" fill="#000" stroke="#000" stroke-width="0.18" transform="translate(444.40 222.10) scale(0.8929 1)" >Low (≤41%)</text>
<text x="0" y="0" font-size="8.960" text-anchor="start" fill="#000" stroke="#000" stroke-width="0.18" transform="translate(429.20 241.10) scale(0.8929 1)" ><tspan font-style="italic">P</tspan> value = 0.0027</text>
<polyline points="294.90,192.00 294.90,269.60" fill="none" stroke="#9a5058" stroke-width="2.6" stroke-linejoin="miter" />
<line x1="32.50" y1="331.32" x2="32.50" y2="424.70" stroke="#000" stroke-width="1.25" />
<line x1="28.90" y1="424.70" x2="32.50" y2="424.70" stroke="#000" stroke-width="1.25" />
<text x="0" y="0" font-size="8.960" text-anchor="end" fill="#000" stroke="#000" stroke-width="0.18" transform="translate(26.50 428.10) scale(0.8929 1)" >10<tspan font-size="6.27" dy="-3.3">0</tspan></text>
<line x1="28.90" y1="409.22" x2="32.50" y2="409.22" stroke="#000" stroke-width="1.25" />
<text x="0" y="0" font-size="8.960" text-anchor="end" fill="#000" stroke="#000" stroke-width="0.18" transform="translate(26.50 412.62) scale(0.8929 1)" >10<tspan font-size="6.27" dy="-3.3">1</tspan></text>
<line x1="28.90" y1="393.74" x2="32.50" y2="393.74" stroke="#000" stroke-width="1.25" />
<text x="0" y="0" font-size="8.960" text-anchor="end" fill="#000" stroke="#000" stroke-width="0.18" transform="translate(26.50 397.14) scale(0.8929 1)" >10<tspan font-size="6.27" dy="-3.3">2</tspan></text>
<line x1="28.90" y1="378.26" x2="32.50" y2="378.26" stroke="#000" stroke-width="1.25" />
<text x="0" y="0" font-size="8.960" text-anchor="end" fill="#000" stroke="#000" stroke-width="0.18" transform="translate(26.50 381.66) scale(0.8929 1)" >10<tspan font-size="6.27" dy="-3.3">3</tspan></text>
<line x1="28.90" y1="362.78" x2="32.50" y2="362.78" stroke="#000" stroke-width="1.25" />
<text x="0" y="0" font-size="8.960" text-anchor="end" fill="#000" stroke="#000" stroke-width="0.18" transform="translate(26.50 366.18) scale(0.8929 1)" >10<tspan font-size="6.27" dy="-3.3">4</tspan></text>
<line x1="28.90" y1="347.30" x2="32.50" y2="347.30" stroke="#000" stroke-width="1.25" />
<text x="0" y="0" font-size="8.960" text-anchor="end" fill="#000" stroke="#000" stroke-width="0.18" transform="translate(26.50 350.70) scale(0.8929 1)" >10<tspan font-size="6.27" dy="-3.3">5</tspan></text>
<line x1="28.90" y1="331.82" x2="32.50" y2="331.82" stroke="#000" stroke-width="1.25" />
<text x="0" y="0" font-size="8.960" text-anchor="end" fill="#000" stroke="#000" stroke-width="0.18" transform="translate(26.50 335.22) scale(0.8929 1)" >10<tspan font-size="6.27" dy="-3.3">6</tspan></text>
<line x1="32.50" y1="424.70" x2="171.50" y2="424.70" stroke="#000" stroke-width="1.25" />
<line x1="32.50" y1="424.70" x2="32.50" y2="427.70" stroke="#000" stroke-width="1.25" />
<text x="0" y="0" font-size="8.960" text-anchor="middle" fill="#000" stroke="#000" stroke-width="0.18" transform="translate(32.50 438.50) scale(0.8929 1)" >−300</text>
<line x1="60.30" y1="424.70" x2="60.30" y2="427.70" stroke="#000" stroke-width="1.25" />
<text x="0" y="0" font-size="8.960" text-anchor="middle" fill="#000" stroke="#000" stroke-width="0.18" transform="translate(60.30 438.50) scale(0.8929 1)" >−200</text>
<line x1="88.10" y1="424.70" x2="88.10" y2="427.70" stroke="#000" stroke-width="1.25" />
<text x="0" y="0" font-size="8.960" text-anchor="middle" fill="#000" stroke="#000" stroke-width="0.18" transform="translate(88.10 438.50) scale(0.8929 1)" >−100</text>
<line x1="115.90" y1="424.70" x2="115.90" y2="427.70" stroke="#000" stroke-width="1.25" />
<text x="0" y="0" font-size="8.960" text-anchor="middle" fill="#000" stroke="#000" stroke-width="0.18" transform="translate(115.90 438.50) scale(0.8929 1)" >0</text>
<line x1="143.70" y1="424.70" x2="143.70" y2="427.70" stroke="#000" stroke-width="1.25" />
<text x="0" y="0" font-size="8.960" text-anchor="middle" fill="#000" stroke="#000" stroke-width="0.18" transform="translate(143.70 438.50) scale(0.8929 1)" >100</text>
<line x1="171.50" y1="424.70" x2="171.50" y2="427.70" stroke="#000" stroke-width="1.25" />
<text x="0" y="0" font-size="8.960" text-anchor="middle" fill="#000" stroke="#000" stroke-width="0.18" transform="translate(171.50 438.50) scale(0.8929 1)" >200</text>
<text x="0" y="0" font-size="8.960" text-anchor="middle" fill="#000" stroke="#000" stroke-width="0.18" transform="translate(101.90 448.70) scale(0.8929 1)" ><tspan font-style="italic">EGR2</tspan> KO UP signature score</text>
<text x="0" y="0" font-size="8.960" text-anchor="middle" fill="#000" stroke="#000" stroke-width="0.18" transform="translate(6.60 377.90) rotate(-90) scale(0.8929 1)" >Peak expansion (copies/μg DNA)</text>
<text x="0" y="0" font-size="8.960" text-anchor="start" fill="#000" stroke="#000" stroke-width="0.18" transform="translate(53.75 318.50) scale(0.8929 1)" ><tspan font-style="italic">In vivo</tspan> CAR-T expansion</text>
<text x="0" y="0" font-size="8.960" text-anchor="start" fill="#000" stroke="#000" stroke-width="0.18" transform="translate(39.60 334.00) scale(0.8929 1)" ><tspan font-style="italic">r</tspan> = 0.37</text>
<text x="0" y="0" font-size="8.960" text-anchor="start" fill="#000" stroke="#000" stroke-width="0.18" transform="translate(37.40 343.30) scale(0.8929 1)" ><tspan font-style="italic">P</tspan> = 0.032</text>
<circle cx="43.50" cy="354.20" r="2.05" fill="#d43248" stroke="#000" stroke-width="1.45"/>
<text x="0" y="0" font-size="8.960" text-anchor="start" fill="#000" stroke="#000" stroke-width="0.18" transform="translate(48.00 357.50) scale(0.8929 1)" >CR/PR<tspan font-size="6.27" dy="1.8">TD</tspan></text>
<circle cx="43.50" cy="362.90" r="2.05" fill="#858b8b" stroke="#000" stroke-width="1.45"/>
<text x="0" y="0" font-size="8.960" text-anchor="start" fill="#000" stroke="#000" stroke-width="0.18" transform="translate(48.00 366.30) scale(0.8929 1)" >NR/PR</text>
<circle cx="37.70" cy="392.20" r="2.05" fill="#858b8b" stroke="#000" stroke-width="1.45"/>
<circle cx="89.10" cy="358.20" r="2.05" fill="#858b8b" stroke="#000" stroke-width="1.45"/>
<circle cx="88.50" cy="370.60" r="2.05" fill="#858b8b" stroke="#000" stroke-width="1.45"/>
<circle cx="111.70" cy="349.60" r="2.05" fill="#858b8b" stroke="#000" stroke-width="1.45"/>
<circle cx="108.50" cy="360.40" r="2.05" fill="#858b8b" stroke="#000" stroke-width="1.45"/>
<circle cx="111.70" cy="363.60" r="2.05" fill="#858b8b" stroke="#000" stroke-width="1.45"/>
<circle cx="117.90" cy="360.40" r="2.05" fill="#858b8b" stroke="#000" stroke-width="1.45"/>
<circle cx="121.40" cy="356.90" r="2.05" fill="#858b8b" stroke="#000" stroke-width="1.45"/>
<circle cx="116.00" cy="369.30" r="2.05" fill="#858b8b" stroke="#000" stroke-width="1.45"/>
<circle cx="121.90" cy="371.20" r="2.05" fill="#858b8b" stroke="#000" stroke-width="1.45"/>
<circle cx="102.00" cy="380.60" r="2.05" fill="#858b8b" stroke="#000" stroke-width="1.45"/>
<circle cx="103.60" cy="380.60" r="2.05" fill="#858b8b" stroke="#000" stroke-width="1.45"/>
<circle cx="102.00" cy="389.20" r="2.05" fill="#858b8b" stroke="#000" stroke-width="1.45"/>
<circle cx="112.50" cy="388.70" r="2.05" fill="#858b8b" stroke="#000" stroke-width="1.45"/>
<circle cx="113.90" cy="395.40" r="2.05" fill="#858b8b" stroke="#000" stroke-width="1.45"/>
<circle cx="118.40" cy="394.00" r="2.05" fill="#858b8b" stroke="#000" stroke-width="1.45"/>
<circle cx="113.90" cy="397.30" r="2.05" fill="#858b8b" stroke="#000" stroke-width="1.45"/>
<circle cx="120.60" cy="398.60" r="2.05" fill="#858b8b" stroke="#000" stroke-width="1.45"/>
<circle cx="124.60" cy="393.20" r="2.05" fill="#858b8b" stroke="#000" stroke-width="1.45"/>
<circle cx="130.50" cy="376.50" r="2.05" fill="#858b8b" stroke="#000" stroke-width="1.45"/>
<circle cx="133.20" cy="383.80" r="2.05" fill="#858b8b" stroke="#000" stroke-width="1.45"/>
<circle cx="133.20" cy="397.30" r="2.05" fill="#858b8b" stroke="#000" stroke-width="1.45"/>
<circle cx="118.20" cy="408.30" r="2.05" fill="#858b8b" stroke="#000" stroke-width="1.45"/>
<circle cx="101.20" cy="411.80" r="2.05" fill="#858b8b" stroke="#000" stroke-width="1.45"/>
<circle cx="116.00" cy="345.00" r="2.05" fill="#d43248" stroke="#000" stroke-width="1.45"/>
<circle cx="123.30" cy="351.50" r="2.05" fill="#d43248" stroke="#000" stroke-width="1.45"/>
<circle cx="136.20" cy="348.30" r="2.05" fill="#d43248" stroke="#000" stroke-width="1.45"/>
<circle cx="142.10" cy="345.00" r="2.05" fill="#d43248" stroke="#000" stroke-width="1.45"/>
<circle cx="145.40" cy="344.20" r="2.05" fill="#d43248" stroke="#000" stroke-width="1.45"/>
<circle cx="145.40" cy="353.10" r="2.05" fill="#d43248" stroke="#000" stroke-width="1.45"/>
<circle cx="145.40" cy="369.80" r="2.05" fill="#d43248" stroke="#000" stroke-width="1.45"/>
<line x1="209.30" y1="332.00" x2="209.30" y2="424.70" stroke="#000" stroke-width="1.25" />
<line x1="205.90" y1="424.70" x2="209.30" y2="424.70" stroke="#000" stroke-width="1.25" />
<text x="0" y="0" font-size="8.960" text-anchor="end" fill="#000" stroke="#000" stroke-width="0.18" transform="translate(201.70 428.10) scale(0.8929 1)" >0</text>
<line x1="205.90" y1="401.65" x2="209.30" y2="401.65" stroke="#000" stroke-width="1.25" />
<text x="0" y="0" font-size="8.960" text-anchor="end" fill="#000" stroke="#000" stroke-width="0.18" transform="translate(201.70 405.05) scale(0.8929 1)" >20</text>
<line x1="205.90" y1="378.60" x2="209.30" y2="378.60" stroke="#000" stroke-width="1.25" />
<text x="0" y="0" font-size="8.960" text-anchor="end" fill="#000" stroke="#000" stroke-width="0.18" transform="translate(201.70 382.00) scale(0.8929 1)" >40</text>
<line x1="205.90" y1="355.55" x2="209.30" y2="355.55" stroke="#000" stroke-width="1.25" />
<text x="0" y="0" font-size="8.960" text-anchor="end" fill="#000" stroke="#000" stroke-width="0.18" transform="translate(201.70 358.95) scale(0.8929 1)" >60</text>
<line x1="205.90" y1="332.50" x2="209.30" y2="332.50" stroke="#000" stroke-width="1.25" />
<text x="0" y="0" font-size="8.960" text-anchor="end" fill="#000" stroke="#000" stroke-width="0.18" transform="translate(201.70 335.90) scale(0.8929 1)" >80</text>
<line x1="209.30" y1="424.70" x2="347.30" y2="424.70" stroke="#000" stroke-width="1.25" />
<line x1="209.30" y1="424.70" x2="209.30" y2="427.70" stroke="#000" stroke-width="1.25" />
<text x="0" y="0" font-size="8.960" text-anchor="middle" fill="#000" stroke="#000" stroke-width="0.18" transform="translate(209.30 438.50) scale(0.8929 1)" >−300</text>
<line x1="236.70" y1="424.70" x2="236.70" y2="427.70" stroke="#000" stroke-width="1.25" />
<text x="0" y="0" font-size="8.960" text-anchor="middle" fill="#000" stroke="#000" stroke-width="0.18" transform="translate(236.70 438.50) scale(0.8929 1)" >−200</text>
<line x1="264.10" y1="424.70" x2="264.10" y2="427.70" stroke="#000" stroke-width="1.25" />
<text x="0" y="0" font-size="8.960" text-anchor="middle" fill="#000" stroke="#000" stroke-width="0.18" transform="translate(264.10 438.50) scale(0.8929 1)" >−100</text>
<line x1="291.50" y1="424.70" x2="291.50" y2="427.70" stroke="#000" stroke-width="1.25" />
<text x="0" y="0" font-size="8.960" text-anchor="middle" fill="#000" stroke="#000" stroke-width="0.18" transform="translate(291.50 438.50) scale(0.8929 1)" >0</text>
<line x1="318.90" y1="424.70" x2="318.90" y2="427.70" stroke="#000" stroke-width="1.25" />
<text x="0" y="0" font-size="8.960" text-anchor="middle" fill="#000" stroke="#000" stroke-width="0.18" transform="translate(318.90 438.50) scale(0.8929 1)" >100</text>
<line x1="346.30" y1="424.70" x2="346.30" y2="427.70" stroke="#000" stroke-width="1.25" />
<text x="0" y="0" font-size="8.960" text-anchor="middle" fill="#000" stroke="#000" stroke-width="0.18" transform="translate(346.30 438.50) scale(0.8929 1)" >200</text>
<text x="0" y="0" font-size="8.960" text-anchor="middle" fill="#000" stroke="#000" stroke-width="0.18" transform="translate(278.20 448.70) scale(0.8929 1)" ><tspan font-style="italic">EGR2</tspan> KO UP signature score</text>
<text x="0" y="0" font-size="8.960" text-anchor="middle" fill="#000" stroke="#000" stroke-width="0.18" transform="translate(189.30 375.30) rotate(-90) scale(0.8929 1)" >% of CD8<tspan font-size="6.94" dy="-3">+</tspan><tspan dy="3">PD-1</tspan><tspan font-size="6.94" dy="-3">−</tspan><tspan dy="3">CD27</tspan><tspan font-size="6.94" dy="-3">+</tspan></text>
<text x="0" y="0" font-size="8.960" text-anchor="middle" fill="#000" stroke="#000" stroke-width="0.18" transform="translate(277.30 317.80) scale(0.8929 1)" >Favorable subset</text>
<text x="0" y="0" font-size="8.960" text-anchor="start" fill="#000" stroke="#000" stroke-width="0.18" transform="translate(214.20 336.50) scale(0.8929 1)" ><tspan font-style="italic">r</tspan> = 0.55</text>
<text x="0" y="0" font-size="8.960" text-anchor="start" fill="#000" stroke="#000" stroke-width="0.18" transform="translate(212.30 345.90) scale(0.8929 1)" ><tspan font-style="italic">P</tspan> = 0.0009</text>
<circle cx="216.60" cy="356.60" r="2.05" fill="#d43248" stroke="#000" stroke-width="1.45"/>
<text x="0" y="0" font-size="8.960" text-anchor="start" fill="#000" stroke="#000" stroke-width="0.18" transform="translate(220.40 359.90) scale(0.8929 1)" >CR/PR<tspan font-size="6.27" dy="1.8">TD</tspan></text>
<circle cx="216.60" cy="365.30" r="2.05" fill="#7896a0" stroke="#000" stroke-width="1.45"/>
<text x="0" y="0" font-size="8.960" text-anchor="start" fill="#000" stroke="#000" stroke-width="0.18" transform="translate(220.40 368.60) scale(0.8929 1)" >NR/PR</text>
<circle cx="214.60" cy="412.90" r="2.05" fill="#7896a0" stroke="#000" stroke-width="1.45"/>
<circle cx="265.70" cy="407.10" r="2.05" fill="#7896a0" stroke="#000" stroke-width="1.45"/>
<circle cx="264.80" cy="424.40" r="2.05" fill="#7896a0" stroke="#000" stroke-width="1.45"/>
<circle cx="277.20" cy="414.60" r="2.05" fill="#7896a0" stroke="#000" stroke-width="1.45"/>
<circle cx="277.20" cy="419.80" r="2.05" fill="#7896a0" stroke="#000" stroke-width="1.45"/>
<circle cx="284.40" cy="421.00" r="2.05" fill="#7896a0" stroke="#000" stroke-width="1.45"/>
<circle cx="287.90" cy="401.60" r="2.05" fill="#7896a0" stroke="#000" stroke-width="1.45"/>
<circle cx="287.90" cy="411.10" r="2.05" fill="#7896a0" stroke="#000" stroke-width="1.45"/>
<circle cx="289.60" cy="413.70" r="2.05" fill="#7896a0" stroke="#000" stroke-width="1.45"/>
<circle cx="290.20" cy="421.00" r="2.05" fill="#7896a0" stroke="#000" stroke-width="1.45"/>
<circle cx="291.60" cy="404.20" r="2.05" fill="#7896a0" stroke="#000" stroke-width="1.45"/>
<circle cx="292.50" cy="408.00" r="2.05" fill="#7896a0" stroke="#000" stroke-width="1.45"/>
<circle cx="293.60" cy="422.40" r="2.05" fill="#7896a0" stroke="#000" stroke-width="1.45"/>
<circle cx="294.50" cy="390.70" r="2.05" fill="#7896a0" stroke="#000" stroke-width="1.45"/>
<circle cx="297.40" cy="390.70" r="2.05" fill="#7896a0" stroke="#000" stroke-width="1.45"/>
<circle cx="296.00" cy="404.20" r="2.05" fill="#7896a0" stroke="#000" stroke-width="1.45"/>
<circle cx="296.50" cy="415.20" r="2.05" fill="#7896a0" stroke="#000" stroke-width="1.45"/>
<circle cx="297.40" cy="408.00" r="2.05" fill="#7896a0" stroke="#000" stroke-width="1.45"/>
<circle cx="300.30" cy="423.00" r="2.05" fill="#7896a0" stroke="#000" stroke-width="1.45"/>
<circle cx="306.00" cy="411.70" r="2.05" fill="#7896a0" stroke="#000" stroke-width="1.45"/>
<circle cx="308.90" cy="415.80" r="2.05" fill="#7896a0" stroke="#000" stroke-width="1.45"/>
<circle cx="308.90" cy="399.90" r="2.05" fill="#7896a0" stroke="#000" stroke-width="1.45"/>
<circle cx="291.60" cy="386.30" r="2.05" fill="#d43248" stroke="#000" stroke-width="1.45"/>
<circle cx="298.80" cy="401.30" r="2.05" fill="#d43248" stroke="#000" stroke-width="1.45"/>
<circle cx="311.80" cy="359.20" r="2.05" fill="#d43248" stroke="#000" stroke-width="1.45"/>
<circle cx="320.50" cy="358.10" r="2.05" fill="#d43248" stroke="#000" stroke-width="1.45"/>
<circle cx="320.50" cy="363.80" r="2.05" fill="#d43248" stroke="#000" stroke-width="1.45"/>
<circle cx="317.60" cy="382.30" r="2.05" fill="#d43248" stroke="#000" stroke-width="1.45"/>
<circle cx="320.50" cy="388.10" r="2.05" fill="#d43248" stroke="#000" stroke-width="1.45"/>
<line x1="374.60" y1="332.00" x2="374.60" y2="424.70" stroke="#000" stroke-width="1.25" />
<line x1="371.20" y1="424.70" x2="374.60" y2="424.70" stroke="#000" stroke-width="1.25" />
<text x="0" y="0" font-size="8.960" text-anchor="end" fill="#000" stroke="#000" stroke-width="0.18" transform="translate(369.20 428.10) scale(0.8929 1)" >0</text>
<line x1="371.20" y1="401.65" x2="374.60" y2="401.65" stroke="#000" stroke-width="1.25" />
<text x="0" y="0" font-size="8.960" text-anchor="end" fill="#000" stroke="#000" stroke-width="0.18" transform="translate(369.20 405.05) scale(0.8929 1)" >20</text>
<line x1="371.20" y1="378.60" x2="374.60" y2="378.60" stroke="#000" stroke-width="1.25" />
<text x="0" y="0" font-size="8.960" text-anchor="end" fill="#000" stroke="#000" stroke-width="0.18" transform="translate(369.20 382.00) scale(0.8929 1)" >40</text>
<line x1="371.20" y1="355.55" x2="374.60" y2="355.55" stroke="#000" stroke-width="1.25" />
<text x="0" y="0" font-size="8.960" text-anchor="end" fill="#000" stroke="#000" stroke-width="0.18" transform="translate(369.20 358.95) scale(0.8929 1)" >60</text>
<line x1="371.20" y1="332.50" x2="374.60" y2="332.50" stroke="#000" stroke-width="1.25" />
<text x="0" y="0" font-size="8.960" text-anchor="end" fill="#000" stroke="#000" stroke-width="0.18" transform="translate(369.20 335.90) scale(0.8929 1)" >80</text>
<line x1="374.60" y1="424.70" x2="513.60" y2="424.70" stroke="#000" stroke-width="1.25" />
<line x1="374.60" y1="424.70" x2="374.60" y2="427.70" stroke="#000" stroke-width="1.25" />
<text x="0" y="0" font-size="8.960" text-anchor="middle" fill="#000" stroke="#000" stroke-width="0.18" transform="translate(374.60 438.50) scale(0.8929 1)" >−300</text>
<line x1="402.20" y1="424.70" x2="402.20" y2="427.70" stroke="#000" stroke-width="1.25" />
<text x="0" y="0" font-size="8.960" text-anchor="middle" fill="#000" stroke="#000" stroke-width="0.18" transform="translate(402.20 438.50) scale(0.8929 1)" >−200</text>
<line x1="429.80" y1="424.70" x2="429.80" y2="427.70" stroke="#000" stroke-width="1.25" />
<text x="0" y="0" font-size="8.960" text-anchor="middle" fill="#000" stroke="#000" stroke-width="0.18" transform="translate(429.80 438.50) scale(0.8929 1)" >−100</text>
<line x1="457.40" y1="424.70" x2="457.40" y2="427.70" stroke="#000" stroke-width="1.25" />
<text x="0" y="0" font-size="8.960" text-anchor="middle" fill="#000" stroke="#000" stroke-width="0.18" transform="translate(457.40 438.50) scale(0.8929 1)" >0</text>
<line x1="485.00" y1="424.70" x2="485.00" y2="427.70" stroke="#000" stroke-width="1.25" />
<text x="0" y="0" font-size="8.960" text-anchor="middle" fill="#000" stroke="#000" stroke-width="0.18" transform="translate(485.00 438.50) scale(0.8929 1)" >100</text>
<line x1="512.60" y1="424.70" x2="512.60" y2="427.70" stroke="#000" stroke-width="1.25" />
<text x="0" y="0" font-size="8.960" text-anchor="middle" fill="#000" stroke="#000" stroke-width="0.18" transform="translate(512.60 438.50) scale(0.8929 1)" >200</text>
<text x="0" y="0" font-size="8.960" text-anchor="middle" fill="#000" stroke="#000" stroke-width="0.18" transform="translate(443.40 448.70) scale(0.8929 1)" ><tspan font-style="italic">EGR2</tspan> KO UP signature score</text>
<text x="0" y="0" font-size="8.960" text-anchor="middle" fill="#000" stroke="#000" stroke-width="0.18" transform="translate(358.60 377.50) rotate(-90) scale(0.8929 1)" >% of CD8<tspan font-size="6.94" dy="-3">+</tspan><tspan dy="3">PD-1</tspan><tspan font-size="6.94" dy="-3">+</tspan><tspan dy="3">CD27</tspan><tspan font-size="6.94" dy="-3">−</tspan></text>
<text x="0" y="0" font-size="8.960" text-anchor="middle" fill="#000" stroke="#000" stroke-width="0.18" transform="translate(438.60 317.80) scale(0.8929 1)" >Unfavorable subset</text>
<text x="0" y="0" font-size="8.960" text-anchor="start" fill="#000" stroke="#000" stroke-width="0.18" transform="translate(381.50 336.70) scale(0.8929 1)" ><tspan font-style="italic">r</tspan> = −0.39</text>
<text x="0" y="0" font-size="8.960" text-anchor="start" fill="#000" stroke="#000" stroke-width="0.18" transform="translate(379.60 346.10) scale(0.8929 1)" ><tspan font-style="italic">P</tspan> = 0.023</text>
<circle cx="383.10" cy="357.00" r="2.05" fill="#d43248" stroke="#000" stroke-width="1.45"/>
<text x="0" y="0" font-size="8.960" text-anchor="start" fill="#000" stroke="#000" stroke-width="0.18" transform="translate(387.60 360.30) scale(0.8929 1)" >CR/PR<tspan font-size="6.27" dy="1.8">TD</tspan></text>
<circle cx="383.10" cy="365.70" r="2.05" fill="#7896a0" stroke="#000" stroke-width="1.45"/>
<text x="0" y="0" font-size="8.960" text-anchor="start" fill="#000" stroke="#000" stroke-width="0.18" transform="translate(387.60 369.00) scale(0.8929 1)" >NR/PR</text>
<circle cx="380.90" cy="395.90" r="2.05" fill="#7896a0" stroke="#000" stroke-width="1.45"/>
<circle cx="430.80" cy="340.20" r="2.05" fill="#7896a0" stroke="#000" stroke-width="1.45"/>
<circle cx="459.60" cy="341.60" r="2.05" fill="#7896a0" stroke="#000" stroke-width="1.45"/>
<circle cx="431.30" cy="389.20" r="2.05" fill="#7896a0" stroke="#000" stroke-width="1.45"/>
<circle cx="442.90" cy="365.60" r="2.05" fill="#7896a0" stroke="#000" stroke-width="1.45"/>
<circle cx="444.30" cy="374.20" r="2.05" fill="#7896a0" stroke="#000" stroke-width="1.45"/>
<circle cx="442.90" cy="389.20" r="2.05" fill="#7896a0" stroke="#000" stroke-width="1.45"/>
<circle cx="442.90" cy="391.00" r="2.05" fill="#7896a0" stroke="#000" stroke-width="1.45"/>
<circle cx="449.20" cy="358.40" r="2.05" fill="#7896a0" stroke="#000" stroke-width="1.45"/>
<circle cx="454.40" cy="359.20" r="2.05" fill="#7896a0" stroke="#000" stroke-width="1.45"/>
<circle cx="455.90" cy="360.40" r="2.05" fill="#7896a0" stroke="#000" stroke-width="1.45"/>
<circle cx="462.50" cy="371.90" r="2.05" fill="#7896a0" stroke="#000" stroke-width="1.45"/>
<circle cx="453.00" cy="385.80" r="2.05" fill="#7896a0" stroke="#000" stroke-width="1.45"/>
<circle cx="456.70" cy="384.90" r="2.05" fill="#7896a0" stroke="#000" stroke-width="1.45"/>
<circle cx="460.80" cy="384.00" r="2.05" fill="#7896a0" stroke="#000" stroke-width="1.45"/>
<circle cx="463.10" cy="384.90" r="2.05" fill="#7896a0" stroke="#000" stroke-width="1.45"/>
<circle cx="457.30" cy="392.70" r="2.05" fill="#7896a0" stroke="#000" stroke-width="1.45"/>
<circle cx="452.40" cy="395.90" r="2.05" fill="#7896a0" stroke="#000" stroke-width="1.45"/>
<circle cx="457.90" cy="395.60" r="2.05" fill="#7896a0" stroke="#000" stroke-width="1.45"/>
<circle cx="461.60" cy="390.10" r="2.05" fill="#7896a0" stroke="#000" stroke-width="1.45"/>
<circle cx="465.40" cy="397.90" r="2.05" fill="#7896a0" stroke="#000" stroke-width="1.45"/>
<circle cx="472.30" cy="395.90" r="2.05" fill="#7896a0" stroke="#000" stroke-width="1.45"/>
<circle cx="475.20" cy="397.30" r="2.05" fill="#7896a0" stroke="#000" stroke-width="1.45"/>
<circle cx="474.00" cy="423.30" r="2.05" fill="#7896a0" stroke="#000" stroke-width="1.45"/>
<circle cx="464.50" cy="390.10" r="2.05" fill="#d43248" stroke="#000" stroke-width="1.45"/>
<circle cx="457.30" cy="410.00" r="2.05" fill="#d43248" stroke="#000" stroke-width="1.45"/>
<circle cx="460.80" cy="411.70" r="2.05" fill="#d43248" stroke="#000" stroke-width="1.45"/>
<circle cx="478.10" cy="420.10" r="2.05" fill="#d43248" stroke="#000" stroke-width="1.45"/>
<circle cx="486.10" cy="401.30" r="2.05" fill="#d43248" stroke="#000" stroke-width="1.45"/>
<circle cx="482.70" cy="407.10" r="2.05" fill="#d43248" stroke="#000" stroke-width="1.45"/>
<circle cx="486.10" cy="410.00" r="2.05" fill="#d43248" stroke="#000" stroke-width="1.45"/>
<circle cx="486.10" cy="414.00" r="2.05" fill="#d43248" stroke="#000" stroke-width="1.45"/>
<line x1="38.30" y1="474.60" x2="38.30" y2="568.60" stroke="#000" stroke-width="1.25" />
<line x1="34.30" y1="568.60" x2="38.30" y2="568.60" stroke="#000" stroke-width="1.25" />
<text x="0" y="0" font-size="8.960" text-anchor="end" fill="#000" stroke="#000" stroke-width="0.18" transform="translate(32.30 572.00) scale(0.8929 1)" >10<tspan font-size="6.27" dy="-3.3">5</tspan></text>
<line x1="34.30" y1="555.20" x2="38.30" y2="555.20" stroke="#000" stroke-width="1.25" />
<text x="0" y="0" font-size="8.960" text-anchor="end" fill="#000" stroke="#000" stroke-width="0.18" transform="translate(32.30 558.60) scale(0.8929 1)" >10<tspan font-size="6.27" dy="-3.3">6</tspan></text>
<line x1="34.30" y1="541.80" x2="38.30" y2="541.80" stroke="#000" stroke-width="1.25" />
<text x="0" y="0" font-size="8.960" text-anchor="end" fill="#000" stroke="#000" stroke-width="0.18" transform="translate(32.30 545.20) scale(0.8929 1)" >10<tspan font-size="6.27" dy="-3.3">7</tspan></text>
<line x1="34.30" y1="528.40" x2="38.30" y2="528.40" stroke="#000" stroke-width="1.25" />
<text x="0" y="0" font-size="8.960" text-anchor="end" fill="#000" stroke="#000" stroke-width="0.18" transform="translate(32.30 531.80) scale(0.8929 1)" >10<tspan font-size="6.27" dy="-3.3">8</tspan></text>
<line x1="34.30" y1="515.00" x2="38.30" y2="515.00" stroke="#000" stroke-width="1.25" />
<text x="0" y="0" font-size="8.960" text-anchor="end" fill="#000" stroke="#000" stroke-width="0.18" transform="translate(32.30 518.40) scale(0.8929 1)" >10<tspan font-size="6.27" dy="-3.3">9</tspan></text>
<line x1="34.30" y1="501.60" x2="38.30" y2="501.60" stroke="#000" stroke-width="1.25" />
<text x="0" y="0" font-size="8.960" text-anchor="end" fill="#000" stroke="#000" stroke-width="0.18" transform="translate(32.30 505.00) scale(0.8929 1)" >10<tspan font-size="6.27" dy="-3.3">10</tspan></text>
<line x1="34.30" y1="488.20" x2="38.30" y2="488.20" stroke="#000" stroke-width="1.25" />
<text x="0" y="0" font-size="8.960" text-anchor="end" fill="#000" stroke="#000" stroke-width="0.18" transform="translate(32.30 491.60) scale(0.8929 1)" >10<tspan font-size="6.27" dy="-3.3">11</tspan></text>
<line x1="34.30" y1="474.80" x2="38.30" y2="474.80" stroke="#000" stroke-width="1.25" />
<text x="0" y="0" font-size="8.960" text-anchor="end" fill="#000" stroke="#000" stroke-width="0.18" transform="translate(32.30 478.20) scale(0.8929 1)" >10<tspan font-size="6.27" dy="-3.3">12</tspan></text>
<line x1="38.30" y1="568.60" x2="179.30" y2="568.60" stroke="#000" stroke-width="1.25" />
<line x1="38.30" y1="568.60" x2="38.30" y2="571.60" stroke="#000" stroke-width="1.25" />
<text x="0" y="0" font-size="8.960" text-anchor="middle" fill="#000" stroke="#000" stroke-width="0.18" transform="translate(38.30 581.50) scale(0.8929 1)" >0</text>
<line x1="66.50" y1="568.60" x2="66.50" y2="571.60" stroke="#000" stroke-width="1.25" />
<text x="0" y="0" font-size="8.960" text-anchor="middle" fill="#000" stroke="#000" stroke-width="0.18" transform="translate(66.50 581.50) scale(0.8929 1)" >10</text>
<line x1="94.70" y1="568.60" x2="94.70" y2="571.60" stroke="#000" stroke-width="1.25" />
<text x="0" y="0" font-size="8.960" text-anchor="middle" fill="#000" stroke="#000" stroke-width="0.18" transform="translate(94.70 581.50) scale(0.8929 1)" >20</text>
<line x1="122.90" y1="568.60" x2="122.90" y2="571.60" stroke="#000" stroke-width="1.25" />
<text x="0" y="0" font-size="8.960" text-anchor="middle" fill="#000" stroke="#000" stroke-width="0.18" transform="translate(122.90 581.50) scale(0.8929 1)" >30</text>
<line x1="151.10" y1="568.60" x2="151.10" y2="571.60" stroke="#000" stroke-width="1.25" />
<text x="0" y="0" font-size="8.960" text-anchor="middle" fill="#000" stroke="#000" stroke-width="0.18" transform="translate(151.10 581.50) scale(0.8929 1)" >40</text>
<line x1="179.30" y1="568.60" x2="179.30" y2="571.60" stroke="#000" stroke-width="1.25" />
<text x="0" y="0" font-size="8.960" text-anchor="middle" fill="#000" stroke="#000" stroke-width="0.18" transform="translate(179.30 581.50) scale(0.8929 1)" >50</text>
<text x="0" y="0" font-size="8.960" text-anchor="middle" fill="#000" stroke="#000" stroke-width="0.18" transform="translate(108.75 591.00) scale(0.8929 1)" >Days</text>
<text x="0" y="0" font-size="8.960" text-anchor="middle" fill="#000" stroke="#000" stroke-width="0.18" transform="translate(12.60 520.30) rotate(-90) scale(0.8929 1)" >Tumor (BLI)</text>
<text x="0" y="0" font-size="8.960" text-anchor="middle" fill="#000" stroke="#000" stroke-width="0.18" transform="translate(114.50 469.25) scale(0.8929 1)" >Tumor growth</text>
<polyline points="38.30,559.20 49.58,548.50 69.32,520.50 80.60,513.70 97.52,512.10 108.80,527.00 128.54,516.00 145.46,498.70 159.56,494.50" fill="none" stroke="#e2242b" stroke-width="1.2" stroke-linejoin="miter" />
<polyline points="38.30,559.20 49.58,548.50 69.32,522.00 80.60,515.40 97.52,514.40 108.80,531.90 128.54,537.10 145.46,502.50 159.56,494.50" fill="none" stroke="#e2242b" stroke-width="1.2" stroke-linejoin="miter" />
<polyline points="38.30,559.20 49.58,548.50 69.32,523.50 80.60,517.80 97.52,520.50 108.80,541.40 128.54,530.20 159.56,494.50" fill="none" stroke="#e2242b" stroke-width="1.2" stroke-linejoin="miter" />
<polyline points="38.30,559.20 49.58,548.50 69.32,524.50 80.60,513.70 97.52,526.60 108.80,544.90 128.54,539.70 159.56,504.20 173.66,500.40" fill="none" stroke="#e2242b" stroke-width="1.2" stroke-linejoin="miter" />
<polyline points="38.30,559.20 49.58,548.50 69.32,525.20 80.60,522.90 97.52,526.60 108.80,544.10 128.54,548.30 159.56,514.60 173.66,514.60" fill="none" stroke="#e2242b" stroke-width="1.2" stroke-linejoin="miter" />
<polyline points="38.30,559.20 49.58,548.50 69.32,510.50 80.60,495.50 86.24,492.30 97.52,487.00" fill="none" stroke="#909090" stroke-width="1.25" stroke-linejoin="miter" />
<polyline points="38.30,559.20 49.58,548.50 69.32,512.10 80.60,514.80 86.24,494.80 97.52,489.00" fill="none" stroke="#909090" stroke-width="1.25" stroke-linejoin="miter" />
<polyline points="38.30,559.20 49.58,548.50 69.32,511.00 80.60,496.00 86.24,492.80 97.52,490.80" fill="none" stroke="#000" stroke-width="1.9" stroke-linejoin="miter" />
<line x1="189.50" y1="479.30" x2="201.30" y2="479.30" stroke="#000" stroke-width="1.5" />
<text x="0" y="0" font-size="8.960" text-anchor="start" fill="#000" stroke="#000" stroke-width="0.18" transform="translate(206.50 482.80) scale(0.8929 1)" >pBBz</text>
<line x1="189.50" y1="495.50" x2="201.30" y2="495.50" stroke="#909090" stroke-width="1.2" />
<text x="0" y="0" font-size="8.960" text-anchor="start" fill="#000" stroke="#000" stroke-width="0.18" transform="translate(206.50 498.80) scale(0.8929 1)" ><tspan font-style="italic">AAVS1</tspan> KO</text>
<line x1="189.50" y1="510.80" x2="201.30" y2="510.80" stroke="#e2242b" stroke-width="1.2" />
<text x="0" y="0" font-size="8.960" text-anchor="start" fill="#000" stroke="#000" stroke-width="0.18" transform="translate(206.50 514.30) scale(0.8929 1)" ><tspan font-style="italic">EGR2</tspan> KO</text>
<line x1="296.50" y1="474.60" x2="296.50" y2="569.10" stroke="#000" stroke-width="1.25" />
<line x1="293.10" y1="483.10" x2="296.50" y2="483.10" stroke="#000" stroke-width="1.25" />
<text x="0" y="0" font-size="8.960" text-anchor="end" fill="#000" stroke="#000" stroke-width="0.18" transform="translate(289.20 486.50) scale(0.8929 1)" >100</text>
<line x1="293.10" y1="526.10" x2="296.50" y2="526.10" stroke="#000" stroke-width="1.25" />
<text x="0" y="0" font-size="8.960" text-anchor="end" fill="#000" stroke="#000" stroke-width="0.18" transform="translate(289.20 529.50) scale(0.8929 1)" >50</text>
<line x1="293.10" y1="569.10" x2="296.50" y2="569.10" stroke="#000" stroke-width="1.25" />
<text x="0" y="0" font-size="8.960" text-anchor="end" fill="#000" stroke="#000" stroke-width="0.18" transform="translate(289.20 572.50) scale(0.8929 1)" >0</text>
<line x1="296.50" y1="569.10" x2="437.50" y2="569.10" stroke="#000" stroke-width="1.25" />
<line x1="296.20" y1="569.10" x2="296.20" y2="572.10" stroke="#000" stroke-width="1.25" />
<text x="0" y="0" font-size="8.960" text-anchor="middle" fill="#000" stroke="#000" stroke-width="0.18" transform="translate(296.20 582.50) scale(0.8929 1)" >0</text>
<line x1="343.30" y1="569.10" x2="343.30" y2="572.10" stroke="#000" stroke-width="1.25" />
<text x="0" y="0" font-size="8.960" text-anchor="middle" fill="#000" stroke="#000" stroke-width="0.18" transform="translate(343.30 582.50) scale(0.8929 1)" >20</text>
<line x1="390.40" y1="569.10" x2="390.40" y2="572.10" stroke="#000" stroke-width="1.25" />
<text x="0" y="0" font-size="8.960" text-anchor="middle" fill="#000" stroke="#000" stroke-width="0.18" transform="translate(390.40 582.50) scale(0.8929 1)" >40</text>
<line x1="437.50" y1="569.10" x2="437.50" y2="572.10" stroke="#000" stroke-width="1.25" />
<text x="0" y="0" font-size="8.960" text-anchor="middle" fill="#000" stroke="#000" stroke-width="0.18" transform="translate(437.50 582.50) scale(0.8929 1)" >60</text>
<text x="0" y="0" font-size="8.960" text-anchor="middle" fill="#000" stroke="#000" stroke-width="0.18" transform="translate(367.00 590.00) scale(0.8929 1)" >Time</text>
<text x="0" y="0" font-size="8.960" text-anchor="middle" fill="#000" stroke="#000" stroke-width="0.18" transform="translate(272.50 526.00) rotate(-90) scale(0.8929 1)" >Probability of survival</text>
<text x="0" y="0" font-size="8.960" text-anchor="middle" fill="#000" stroke="#000" stroke-width="0.18" transform="translate(364.50 471.00) scale(0.8929 1)" >Survival</text>
<polyline points="296.20,483.10 404.50,483.10 404.50,497.70 406.30,497.70 406.30,511.50 409.40,511.50 409.40,540.20 418.60,540.20 418.60,554.00 426.00,554.00 426.00,569.10" fill="none" stroke="#d9343c" stroke-width="1.1" stroke-linejoin="miter" />
<polyline points="296.20,483.10 346.30,483.10 346.30,526.00 348.50,526.00 348.50,569.10" fill="none" stroke="#999" stroke-width="0.9" stroke-linejoin="miter" />
<polyline points="296.20,483.10 345.40,483.10 345.40,569.10" fill="none" stroke="#111" stroke-width="1.3" stroke-linejoin="miter" />
<line x1="431.30" y1="482.00" x2="443.80" y2="482.00" stroke="#111" stroke-width="1.1" />
<text x="0" y="0" font-size="8.960" text-anchor="start" fill="#000" stroke="#000" stroke-width="0.18" transform="translate(448.00 485.50) scale(0.8929 1)" >pBBz</text>
<line x1="431.30" y1="499.20" x2="443.80" y2="499.20" stroke="#999" stroke-width="1.1" />
<text x="0" y="0" font-size="8.960" text-anchor="start" fill="#000" stroke="#000" stroke-width="0.18" transform="translate(448.00 502.30) scale(0.8929 1)" ><tspan font-style="italic">AAVS1</tspan> KO</text>
<line x1="431.30" y1="514.50" x2="443.80" y2="514.50" stroke="#d9343c" stroke-width="1.1" />
<text x="0" y="0" font-size="8.960" text-anchor="start" fill="#000" stroke="#000" stroke-width="0.18" transform="translate(448.00 517.30) scale(0.8929 1)" ><tspan font-style="italic">EGR2</tspan> KO</text>
<line x1="490.00" y1="498.50" x2="490.00" y2="516.50" stroke="#111" stroke-width="1.1" />
<circle cx="496.20" cy="507.70" r="1.1" fill="#111"/>
<circle cx="499.80" cy="507.70" r="1.1" fill="#111"/>
<circle cx="503.40" cy="507.70" r="1.1" fill="#111"/>
</svg></body></html>
